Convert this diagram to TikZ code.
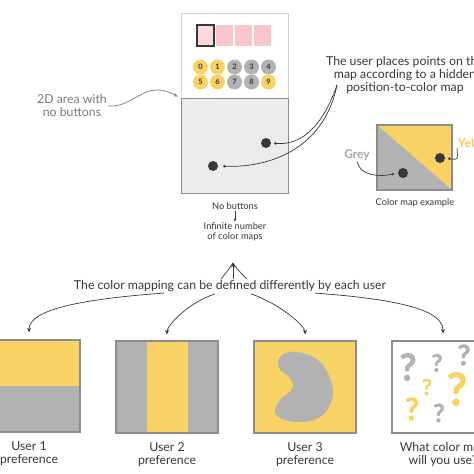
\documentclass[tikz,border=0pt]{standalone}
\usepackage{fontspec}
\setmainfont{Lato}
\newfontfamily\qmfont{Lato}[BoldFeatures={FakeBold=1.6}]
\usepackage{tikz}
\usetikzlibrary{arrows.meta,positioning}
\definecolor{yel}{HTML}{F9D266}
\definecolor{gry}{HTML}{B2B2B2}
\definecolor{edge}{HTML}{8C8C8C}
\definecolor{ink}{HTML}{383838}
\definecolor{softink}{HTML}{7A7A7A}
\definecolor{pink}{HTML}{F9C6CD}
\definecolor{pinklt}{HTML}{FBDADE}
\definecolor{areafill}{HTML}{ECECEC}
\definecolor{phoneline}{HTML}{D2D2D2}
\definecolor{greylbl}{HTML}{A6A6A6}
\definecolor{yellbl}{HTML}{F6CB52}

\begin{document}
\begin{tikzpicture}[x=1pt, y=-1pt,
  txt/.style={font=\fontsize{12.3}{13}\selectfont, text=ink, align=center, inner sep=1pt},
  small/.style={font=\fontsize{9.3}{10.5}\selectfont, text=ink, align=center, inner sep=1pt},
  panel/.style={draw=edge, line width=1.2pt, minimum width=102pt, minimum height=92pt, inner sep=0pt},
  keybox/.style={minimum width=17pt, minimum height=21pt, inner sep=0pt},
  digit/.style={circle, minimum size=15pt, inner sep=0pt, text=ink, font=\fontsize{7.5}{7.5}\selectfont\bfseries},
  point/.style={circle, fill=ink, minimum size=10pt, inner sep=0pt},
  link/.style={draw=ink, line width=0.7pt},
  arr/.style={link, -{Stealth[length=4.5pt, width=4pt]}},
  dotend/.style={link, -{Circle[length=2.5pt]}},
  qm/.style={inner sep=0pt, font=\qmfont\fontsize{#1}{#1}\selectfont\bfseries}]

\useasboundingbox (0,0) rectangle (474,474);
\clip (0,0) rectangle (474,474);
\fill[white] (0,0) rectangle (474,474);

% phone with keys and digits
\node[draw=phoneline, line width=0.8pt, minimum width=107pt, minimum height=180pt, inner sep=0pt] (phone) at (234.5,103) {};
\node[draw=edge, fill=areafill, line width=0.8pt, minimum width=107pt, minimum height=95pt, inner sep=0pt, anchor=south] (area) at (phone.south) {};
\node[keybox, draw=ink, line width=1.4pt, fill=pinklt] (k1) at (205.5,35.5) {};
\foreach \i in {2,3,4}
  \node[keybox, fill=pink] (k\i) at ({205.5+19*(\i-1)},35.5) {};
\foreach \d/\c [count=\i from 0] in {0/yel,1/yel,2/gry,3/gry,4/gry,5/yel,6/yel,7/gry,8/gry,9/yel}
  \node[digit, fill=\c] (d\d) at ({200.5+17*mod(\i,5)},{67+15*int(\i/5)}) {\d};
\node[point] (pa) at (266,143) {};
\node[point] (pb) at (213,166) {};

\node[small] (nobtn) at (235,206) {No buttons};
\node[small] (infinite) at (235,232) {Infinite number\\of color maps};
\draw[link, -{Stealth[length=3pt, width=3pt]}] (nobtn) -- (infinite);

\node[txt, text=softink] (area2d) at (72,106) {2D area with\\no buttons};
\draw[draw=softink, line width=0.7pt, -{Stealth[length=4pt, width=3.5pt]}] (area2d.east) .. controls (135,108) and (145,78) .. ([xshift=-3pt,yshift=1pt]area.north west);

% hidden map explanation
\node[txt] (place) at (405,75) {The user places points on the\\map according to a hidden\\position-to-color map};
\draw[dotend, shorten >=3pt] ([xshift=-68pt,yshift=-10pt]place.center) .. controls (325,120) and (305,146) .. (pa.east);
\draw[dotend, shorten >=5pt] ([xshift=-68pt,yshift=-10pt]place.center) .. controls (325,145) and (275,168) .. (pb.east);

% color map example
\node[panel, minimum width=75pt, minimum height=65pt, fill=yel,
  path picture={\fill[gry] (path picture bounding box.north west) -- (path picture bounding box.south east) -- (path picture bounding box.south west) -- cycle;}] (cmap) at (414.5,157.5) {};
\node[point] (pg) at (403,173) {};
\node[point] (py) at (440,158) {};
\node[txt, text=greylbl, font=\fontsize{12}{13}\selectfont\bfseries] (greyname) at (357,155) {Grey};
\node[txt, text=yellbl, font=\fontsize{12}{13}\selectfont\bfseries, anchor=west] (yelname) at (457,143) {Yellow};
\draw[dotend, shorten >=4pt] (greyname.south) .. controls (360,176) and (380,177) .. (pg.west);
\draw[dotend, shorten >=3pt] (yelname.south west) .. controls (458,160) .. (py.east);
\node[small] (cmaplbl) at (415,203) {Color map example};

% user preferences
\node[txt] (mapping) at (230,286) {The color mapping can be defined differently by each user};
\coordinate (merge) at (233,263);
\draw[link] ([xshift=-9pt]mapping.north) .. controls (229,269) .. (merge);
\draw[link] ([xshift=17pt]mapping.north) .. controls (237,269) .. (merge);
\draw[arr] ([xshift=3pt]mapping.north) -- (merge);

\node[panel, fill=gry, path picture={\fill[yel] (path picture bounding box.north west) rectangle (path picture bounding box.east);}] (p1) at (29,386) {};
\node[panel, fill=gry, path picture={\fill[yel] ([xshift=-20.5pt]path picture bounding box.north) rectangle ([xshift=20.5pt]path picture bounding box.south);}] (p2) at (167,387) {};
\node[panel, fill=yel] (p3) at (305,387) {};
\fill[gry] plot[smooth cycle, tension=0.7] coordinates {(281,356) (297,352) (320,362) (332,385) (330,405) (318,418) (300,422) (282,419) (275,411) (280,400) (292,389) (290,378) (279,368)};
\node[panel, fill=white] (p4) at (443,387) {};
\foreach \x/\y/\s/\c [count=\i] in {408/367/37/gry, 437/363/24/gry, 464/355/28/gry, 427/387/22/yel, 457/389/45/yel, 412/409/31/yel, 439/413/25/gry, 481/404/29/gry}
  \node[qm=\s, text=\c] (q\i) at (\x,\y) {?};

\draw[arr, shorten <=3pt, shorten >=7pt] ([xshift=-63pt]mapping.south) .. controls +(-110,8) and +(0,-25) .. (p1.north);
\draw[arr, shorten <=3pt, shorten >=6pt] ([xshift=-12pt]mapping.south) .. controls +(-30,10) and +(0,-15) .. (p2.north);
\draw[arr, shorten <=3pt, shorten >=6pt] ([xshift=18pt]mapping.south) .. controls +(30,10) and +(0,-15) .. (p3.north);
\draw[arr, shorten <=3pt, shorten >=7pt] ([xshift=82pt]mapping.south) .. controls +(110,8) and +(0,-25) .. (p4.north);

\node[txt, below=8pt of p1] (u1) {User 1\\preference};
\node[txt, below=8pt of p2] (u2) {User 2\\preference};
\node[txt, below=8pt of p3] (u3) {User 3\\preference};
\node[txt, below=8pt of p4] (u4) {What color map\\will you use?};
\end{tikzpicture}
\end{document}
